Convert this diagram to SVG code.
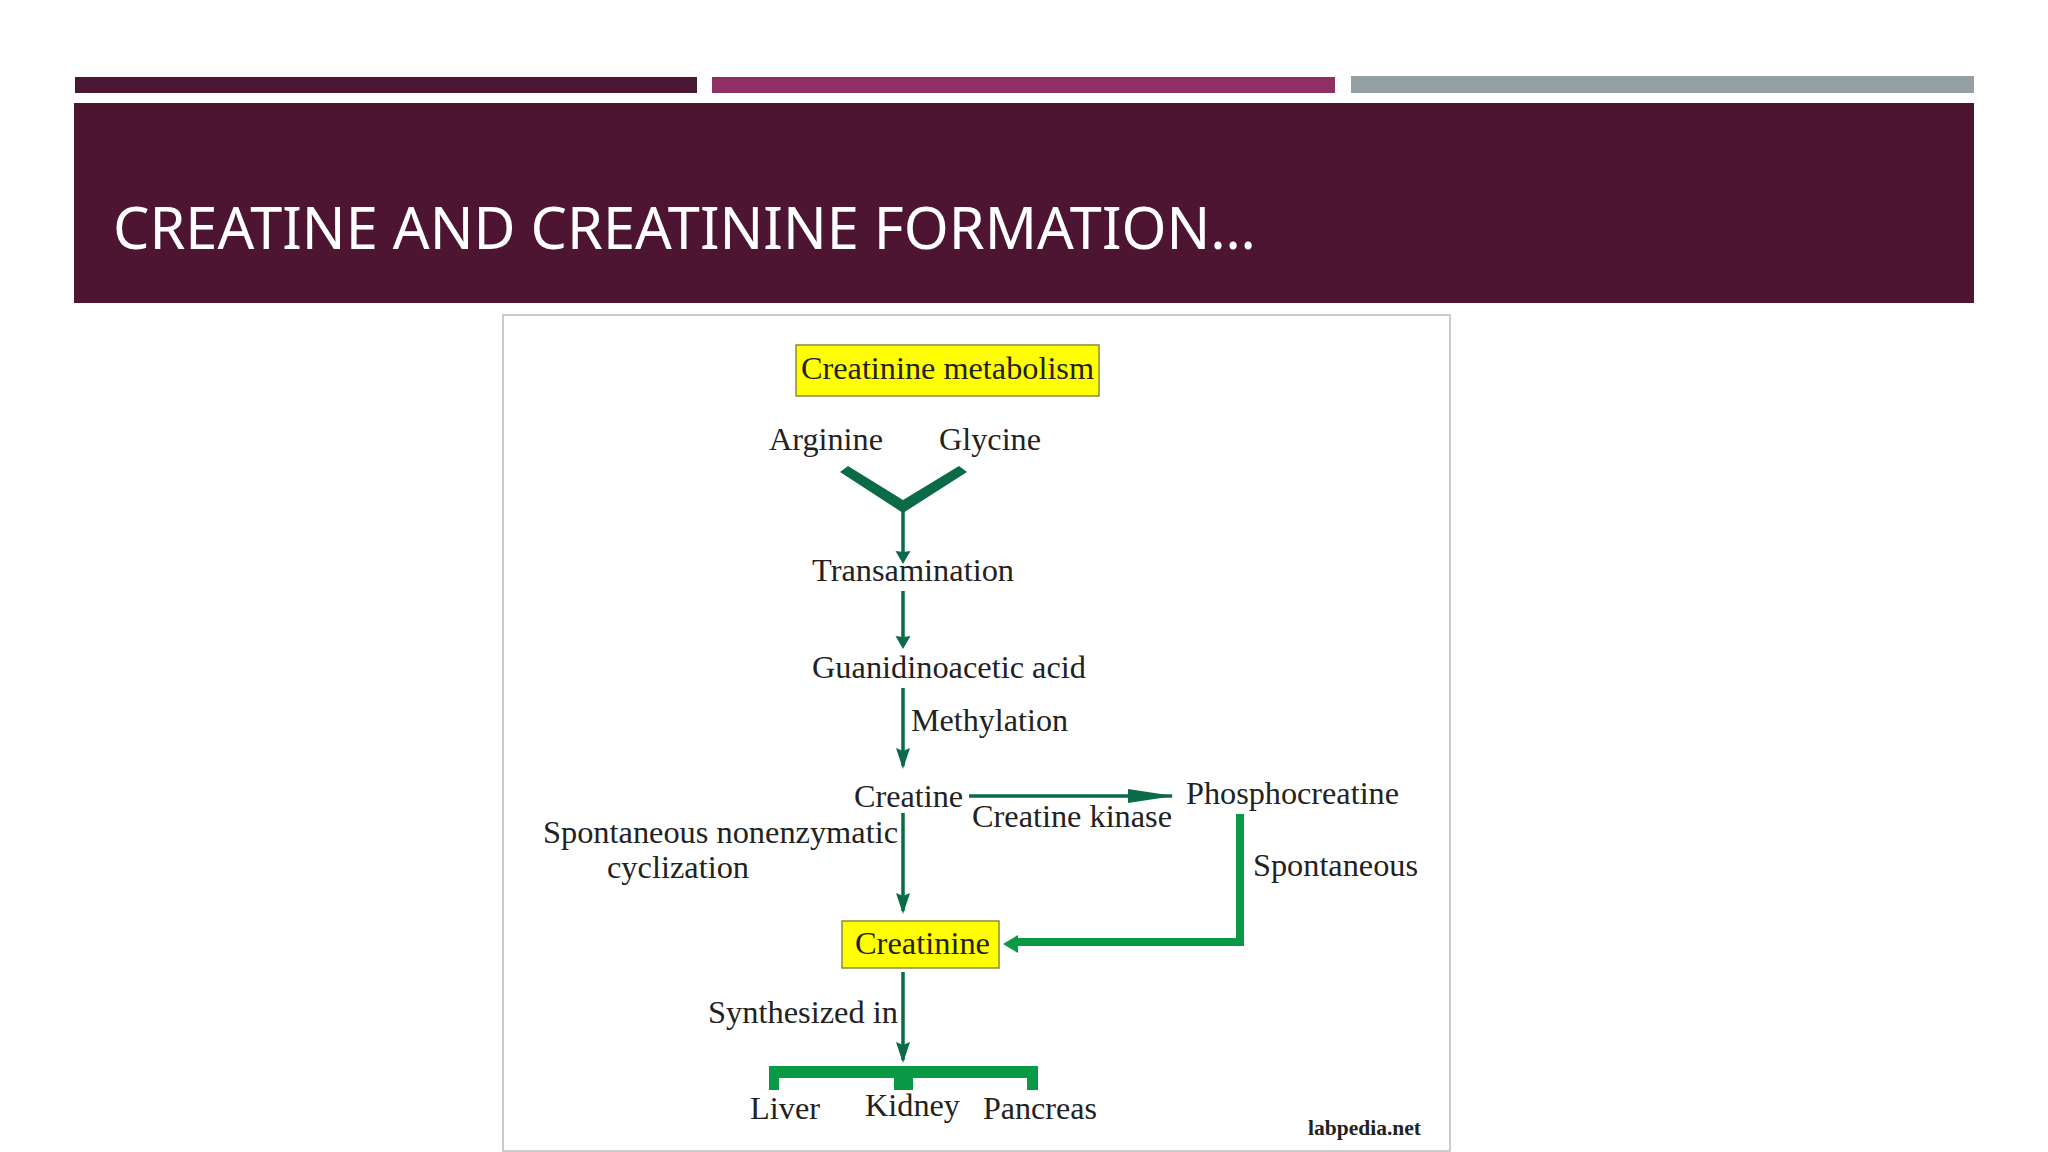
<svg xmlns="http://www.w3.org/2000/svg" width="2048" height="1152" viewBox="0 0 2048 1152">
<style>
.t{font-family:"Liberation Serif","Times New Roman",serif;font-size:32px;fill:#222}
.b{fill:#ffff00;stroke:#8a8a3c;stroke-width:1.5}
.dk{fill:none;stroke:#0b6b47;stroke-width:3.5}
.gr{fill:#0a9a46}
</style>
<defs>
<marker id="sm" markerUnits="userSpaceOnUse" markerWidth="16" markerHeight="16" viewBox="0 0 16 16" refX="9" refY="8" orient="auto"><path d="M0 0.5L13 8L0 15.5L1 8Z" fill="#0b6b47"/></marker>
<marker id="md" markerUnits="userSpaceOnUse" markerWidth="24" markerHeight="16" viewBox="0 0 24 16" refX="18" refY="8" orient="auto"><path d="M0 1L21 8L0 15L3 8Z" fill="#0b6b47"/></marker>
<marker id="lg" markerUnits="userSpaceOnUse" markerWidth="48" markerHeight="16" viewBox="0 0 48 16" refX="44" refY="8" orient="auto"><path d="M0 1L46 8L0 15Z" fill="#0b6b47"/></marker>
</defs>
<rect width="2048" height="1152" fill="#fff"/>
<rect x="75" y="77" width="622" height="16" fill="#4a1734"/>
<rect x="712" y="77" width="623" height="16" fill="#8f2f63"/>
<rect x="1351" y="76" width="623" height="17" fill="#94a0a3"/>
<rect x="74" y="103" width="1900" height="200" fill="#4e1532"/>
<text x="113" y="249" font-family="'Noto Sans','Open Sans',sans-serif" font-size="59" fill="#fff" textLength="1143" lengthAdjust="spacingAndGlyphs">CREATINE AND CREATININE FORMATION…</text>
<rect x="503" y="315" width="947" height="836" fill="#fff" stroke="#bbb" stroke-width="1.5"/>
<g id="connectors">
<path d="M840 472L848 466L903 500L959 466L967 472L903 513Z" fill="#0b6b47"/>
<path class="dk" d="M903 510V560" marker-end="url(#sm)"/>
<path class="dk" d="M903 591V645" marker-end="url(#sm)"/>
<path class="dk" d="M903 688V766" marker-end="url(#md)"/>
<path class="dk" d="M969 796H1172" marker-end="url(#lg)"/>
<path class="dk" d="M903 813V911" marker-end="url(#md)"/>
<path class="dk" d="M903 972V1060" marker-end="url(#md)"/>
<path class="gr" d="M1236 814H1244V946H1018V953L1003 944L1018 935V938H1236Z"/>
<path class="gr" d="M769 1066H1038V1090H1027V1078H913V1090H894V1078H779V1090H769Z"/>
</g>
<g id="node-title"><rect class="b" x="796" y="345" width="303" height="51"/><text class="t" x="801" y="379" textLength="293" lengthAdjust="spacingAndGlyphs">Creatinine metabolism</text></g>
<g id="node-arginine"><text class="t" x="769" y="450" textLength="114" lengthAdjust="spacingAndGlyphs">Arginine</text></g>
<g id="node-glycine"><text class="t" x="939" y="450" textLength="102" lengthAdjust="spacingAndGlyphs">Glycine</text></g>
<g id="node-transamination"><text class="t" x="812" y="581" textLength="202" lengthAdjust="spacingAndGlyphs">Transamination</text></g>
<g id="node-guanidinoacetic"><text class="t" x="812" y="678" textLength="274" lengthAdjust="spacingAndGlyphs">Guanidinoacetic acid</text></g>
<g id="label-methylation"><text class="t" x="911" y="731" textLength="157" lengthAdjust="spacingAndGlyphs">Methylation</text></g>
<g id="node-creatine"><text class="t" x="854" y="807" textLength="109" lengthAdjust="spacingAndGlyphs">Creatine</text></g>
<g id="label-kinase"><text class="t" x="972" y="827" textLength="200" lengthAdjust="spacingAndGlyphs">Creatine kinase</text></g>
<g id="node-phosphocreatine"><text class="t" x="1186" y="804" textLength="213" lengthAdjust="spacingAndGlyphs">Phosphocreatine</text></g>
<g id="label-spontaneous"><text class="t" x="1253" y="876" textLength="165" lengthAdjust="spacingAndGlyphs">Spontaneous</text></g>
<g id="label-cyclization"><text class="t" x="543" y="843" textLength="355" lengthAdjust="spacingAndGlyphs">Spontaneous nonenzymatic</text><text class="t" x="607" y="878" textLength="142" lengthAdjust="spacingAndGlyphs">cyclization</text></g>
<g id="node-creatinine"><rect class="b" x="842" y="921" width="157" height="47"/><text class="t" x="855" y="954" textLength="135" lengthAdjust="spacingAndGlyphs">Creatinine</text></g>
<g id="label-synth"><text class="t" x="708" y="1023" textLength="190" lengthAdjust="spacingAndGlyphs">Synthesized in</text></g>
<g id="node-liver"><text class="t" x="750" y="1119" textLength="70" lengthAdjust="spacingAndGlyphs">Liver</text></g>
<g id="node-kidney"><text class="t" x="865" y="1116" textLength="95" lengthAdjust="spacingAndGlyphs">Kidney</text></g>
<g id="node-pancreas"><text class="t" x="983" y="1119" textLength="114" lengthAdjust="spacingAndGlyphs">Pancreas</text></g>
<text x="1308" y="1135" font-family="'Liberation Serif',serif" font-size="21" font-weight="bold" fill="#222" textLength="113" lengthAdjust="spacingAndGlyphs">labpedia.net</text>
</svg>
